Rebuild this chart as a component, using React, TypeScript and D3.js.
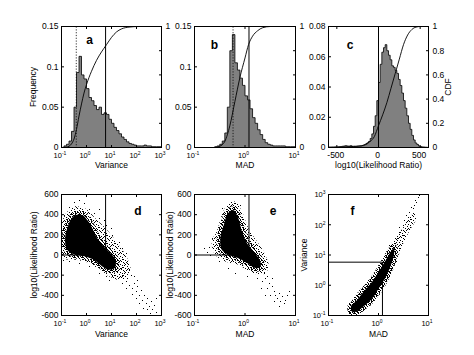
import React from 'react';
import * as d3 from 'd3';

const FONT = "'Liberation Sans', Arial, Helvetica, sans-serif";
const FS = 8.5;

// ---------------- Panel a: Variance histogram (log10 bin left edges) ----------------
const varBinLog10 = [-1, -0.9, -0.8, -0.7, -0.6, -0.5, -0.4, -0.3, -0.2, -0.1, 0, 0.1, 0.2, 0.3, 0.4, 0.5, 0.6, 0.7, 0.8, 0.9, 1, 1.1, 1.2, 1.3, 1.4, 1.5, 1.6, 1.7, 1.8, 1.9, 2, 2.1, 2.2, 2.3, 2.4, 2.5, 2.6, 2.7, 2.8, 2.9];
const varBinWidthLog10 = 0.1;
const varFreq = [0.000, 0.002, 0.004, 0.008, 0.020, 0.050, 0.093, 0.113, 0.090, 0.085, 0.073, 0.062, 0.058, 0.052, 0.047, 0.050, 0.041, 0.043, 0.041, 0.035, 0.030, 0.025, 0.021, 0.017, 0.013, 0.010, 0.007, 0.005, 0.004, 0.003, 0.002, 0.002, 0.002, 0.003, 0.002, 0.002, 0.001, 0.001, 0.001, 0.001];
const varCdfLog10 = [-1, -0.8, -0.7, -0.6, -0.5, -0.4, -0.3, -0.2, -0.1, 0, 0.2, 0.4, 0.6, 0.8, 1.0, 1.2, 1.4, 1.7, 2.1, 3];
const varCdf = [0, 0.003, 0.01, 0.03, 0.07, 0.15, 0.26, 0.36, 0.45, 0.52, 0.63, 0.72, 0.79, 0.85, 0.91, 0.955, 0.98, 0.995, 1, 1];
const varLowCut = 0.39;
const varHighCut = 5.8;

// ---------------- Panel b: MAD histogram ----------------
const madBinLog10 = [-1, -0.95, -0.9, -0.85, -0.8, -0.75, -0.7, -0.65, -0.6, -0.55, -0.5, -0.45, -0.4, -0.35, -0.3, -0.25, -0.2, -0.15, -0.1, -0.05, 0, 0.05, 0.1, 0.15, 0.2, 0.25, 0.3, 0.35, 0.4, 0.45, 0.5, 0.55, 0.6, 0.65, 0.7, 0.75, 0.8, 0.85, 0.9, 0.95];
const madBinWidthLog10 = 0.05;
const madFreq = [0, 0, 0, 0, 0, 0, 0, 0, 0.001, 0.002, 0.004, 0.008, 0.018, 0.050, 0.120, 0.140, 0.105, 0.096, 0.086, 0.077, 0.064, 0.059, 0.048, 0.037, 0.030, 0.022, 0.016, 0.010, 0.006, 0.004, 0.003, 0.002, 0.002, 0.002, 0.002, 0.002, 0.001, 0.001, 0.001, 0.001];
const madCdfLog10 = [-1, -0.6, -0.5, -0.4, -0.3, -0.2, -0.1, 0, 0.07, 0.15, 0.25, 0.35, 0.5, 1];
const madCdf = [0, 0, 0.01, 0.05, 0.18, 0.38, 0.58, 0.74, 0.85, 0.92, 0.965, 0.99, 1, 1];
const madLowCut = 0.58;
const madHighCut = 1.2;

// ---------------- Panel c: log10(Likelihood Ratio) histogram ----------------
const lrBins = [-600, -580, -560, -540, -520, -500, -480, -460, -440, -420, -400, -380, -360, -340, -320, -300, -280, -260, -240, -220, -200, -180, -160, -140, -120, -100, -80, -60, -40, -20, 0, 20, 40, 60, 80, 100, 120, 140, 160, 180, 200, 220, 240, 260, 280, 300, 320, 340, 360, 380, 400, 420, 440, 460, 480, 500, 520, 540, 560, 580];
const lrBinWidth = 20;
const lrFreq = [0.0003, 0.0003, 0.0003, 0.0003, 0.0004, 0.0004, 0.0005, 0.0006, 0.0008, 0.001, 0.0012, 0.001, 0.0009, 0.0012, 0.0008, 0.0008, 0.0007, 0.0008, 0.0009, 0.001, 0.0012, 0.0015, 0.002, 0.003, 0.004, 0.006, 0.009, 0.014, 0.021, 0.031, 0.043, 0.055, 0.063, 0.066, 0.068, 0.064, 0.061, 0.058, 0.054, 0.053, 0.051, 0.049, 0.045, 0.041, 0.036, 0.031, 0.026, 0.021, 0.016, 0.012, 0.008, 0.005, 0.003, 0.002, 0.001, 0.0006, 0.0004, 0.0003, 0.0002, 0.0001];
const lrCdfX = [-600, -400, -200, -150, -100, -50, 0, 50, 100, 150, 200, 250, 300, 350, 400, 450, 500, 600];
const lrCdf = [0, 0.005, 0.015, 0.03, 0.05, 0.09, 0.18, 0.27, 0.37, 0.49, 0.61, 0.73, 0.85, 0.93, 0.975, 0.995, 1, 1];
const lrCut = 0;

// ---------------- Tick values ----------------
const freqTicksAB = [0, 0.05, 0.1, 0.15];
const freqTicksAB_lbl = ['0', '0.05', '0.1', '0.15'];
const freqTicksC = [0, 0.02, 0.04, 0.06, 0.08];
const freqTicksC_lbl = ['0', '0.02', '0.04', '0.06', '0.08'];
const cdfTicks = [0, 0.2, 0.4, 0.6, 0.8, 1];
const cdfTicks_lbl = ['0', '0.2', '0.4', '0.6', '0.8', '1'];
const lrHistTicks = [-500, 0, 500];
const lrScatterTicks = [600, 400, 200, 0, -200, -400, -600];
const varDecades = [-1, 0, 1, 2, 3];
const madDecades = [-1, 0, 1];

// ---------------- Panel d: log10(Variance) vs log10(LR) ----------------
const dCore: [number, number][] = [[-0.77, 265], [-0.64, 347], [-0.44, 396], [-0.17, 396], [0.03, 347], [0.23, 265], [0.43, 166], [0.69, 84], [0.96, 18], [1.16, -48], [1.13, -130], [0.89, -146], [0.63, -113], [0.29, -48], [-0.04, -15], [-0.44, 2], [-0.71, 35], [-0.84, 100], [-0.84, 199]];
const dHalo: [number, number][] = [[-0.97, 330], [-0.77, 430], [-0.5, 480], [-0.05, 460], [0.36, 363], [0.76, 265], [1.29, 100], [1.63, -31], [1.76, -163], [1.43, -245], [1.03, -228], [0.63, -163], [0.09, -80], [-0.44, -48], [-0.91, -31], [-0.99, 100]];
const dPoints: [number, number][] = [[1.23, -163], [1.36, -130], [1.43, -212], [1.49, -179], [1.56, -261], [1.63, -228], [1.69, -294], [1.76, -195], [1.83, -327], [1.89, -278], [1.96, -360], [2.03, -310], [2.09, -392], [2.16, -343], [2.23, -442], [2.29, -393], [2.36, -475], [2.43, -425], [2.49, -508], [2.56, -458], [2.63, -540], [2.69, -491], [2.76, -563], [2.25, -524], [1.96, -425], [1.8, -386], [1.59, -327], [1.4, -278], [2.09, -475], [2.52, -573], [2.76, -425], [1.49, -97], [1.69, -146], [1.29, -64], [1.03, -195], [0.89, -245], [1.63, -80], [1.89, -212], [2.03, -245], [2.43, -540], [-0.91, 396], [-0.71, 478], [-0.51, 527], [-0.31, 544], [-0.11, 511], [0.09, 461], [0.29, 412], [0.49, 363], [0.76, 297], [1.03, 198], [1.29, 133], [1.43, 67], [1.56, 18], [0.49, 461], [0.69, 347], [0.96, 264], [-0.95, 264], [-0.97, 34], [-0.92, -48], [-0.71, -64], [-0.31, -80], [0.09, -113], [0.49, -179], [0.76, -212]];
const dCutVar = 5.8;
const dCutLR = 0;

// ---------------- Panel e: log10(MAD) vs log10(LR) ----------------
const eCore: [number, number][] = [[-0.34, 412], [-0.23, 445], [-0.13, 363], [-0.06, 232], [0.04, 117], [0.17, 34], [0.29, -48], [0.31, -113], [0.21, -130], [0.04, -80], [-0.13, -31], [-0.33, 2], [-0.46, 51], [-0.49, 166], [-0.42, 297]];
const eHalo: [number, number][] = [[-0.56, 232], [-0.46, 396], [-0.33, 511], [-0.19, 527], [-0.06, 429], [0.07, 264], [0.24, 133], [0.4, 2], [0.47, -130], [0.34, -195], [0.14, -179], [-0.13, -97], [-0.39, -64], [-0.59, 2], [-0.66, 133]];
const ePoints: [number, number][] = [[0.37, -179], [0.4, -228], [0.47, -278], [0.44, -327], [0.54, -310], [0.57, -360], [0.6, -393], [0.64, -425], [0.67, -376], [0.7, -458], [0.74, -409], [0.77, -475], [0.8, -442], [0.83, -393], [0.87, -360], [0.5, -393], [0.57, -458], [0.67, -508], [0.34, -261], [0.44, -212], [0.54, -228], [0.24, -228], [0.31, -327], [0.4, -393], [-0.69, 2], [-0.66, 166], [-0.76, 34], [-0.52, -64], [-0.33, -130], [-0.19, -179], [0.04, -212], [-0.09, 494], [-0.46, 462], [-0.72, 84], [-0.82, 67]];
const eCutMad = 1.2;
const eCutLR = 0;

// ---------------- Panel f: log10(MAD) vs log10(Variance) ----------------
const fCore: [number, number][] = [[-0.55, -0.69], [-0.45, -0.53], [-0.29, -0.2], [-0.12, 0.13], [0.01, 0.46], [0.15, 0.84], [0.25, 1.12], [0.31, 1.23], [0.31, 1.01], [0.25, 0.68], [0.15, 0.29], [0.01, -0.09], [-0.12, -0.42], [-0.29, -0.69], [-0.45, -0.88], [-0.53, -0.88]];
const fHalo: [number, number][] = [[-0.62, -0.86], [-0.52, -0.47], [-0.32, -0.04], [-0.12, 0.35], [0.08, 0.9], [0.28, 1.44], [0.48, 1.88], [0.61, 2.21], [0.71, 2.38], [0.75, 2.21], [0.61, 1.77], [0.48, 1.33], [0.38, 0.9], [0.28, 0.46], [0.15, 0.02], [-0.05, -0.47], [-0.25, -0.8], [-0.45, -0.97], [-0.6, -0.97]];
const fPoints: [number, number][] = [[0.78, 2.92], [0.81, 2.97], [0.75, 2.76], [0.71, 2.65], [0.68, 2.54], [0.65, 2.6], [0.68, 2.38], [0.58, 2.27], [0.61, 2.43], [0.55, 2.1], [0.51, 2.16], [0.48, 1.99], [0.45, 1.83], [0.41, 1.77], [0.38, 1.55], [0.35, 1.44], [0.31, 1.39], [0.41, 1.94], [0.55, 2.32], [0.73, 2.81], [0.25, 0.57], [0.35, 0.79], [0.21, 0.35], [0.08, 0.02], [-0.05, -0.31], [-0.49, -0.97], [-0.59, -0.91], [0.41, 1.23], [0.51, 1.66], [0.21, 1.33], [0.18, 1.17]];
const fCutMad = 1.2;
const fCutVar = 5.8;

// ---------------- Layout ----------------
const COL = [
  { x0: 61.5, x1: 161.5 },
  { x0: 194.5, x1: 295.5 },
  { x0: 328.5, x1: 428.5 },
];
const ROW = [
  { y0: 26.5, y1: 147.5 },
  { y0: 194.5, y1: 315.5 },
];
const TL = 2.5;
const GREY = '#808080';

// hand-placed speckle texture cells (style only)
const SPECK_SPARSE = [[0, 0], [5, 0], [2, 1], [7, 2], [3, 3], [0, 4], [5, 4], [1, 5], [6, 6], [3, 6], [4, 7], [7, 5], [2, 3]];
const SPECK_DENSE = [[0, 0], [2, 0], [5, 0], [6, 0], [1, 1], [3, 1], [4, 2], [7, 2], [0, 3], [2, 3], [5, 3], [6, 4], [1, 5], [3, 5], [4, 5], [7, 6], [0, 6], [2, 7], [5, 7], [6, 1], [3, 4], [1, 7]];

type S = (v: number) => number;

function Frame({ x0, x1, y0, y1, xt, yt, yt2 }: { x0: number; x1: number; y0: number; y1: number; xt: number[]; yt: number[]; yt2?: number[] }) {
  const r = yt2 ?? yt;
  return (
    <g stroke="#000" strokeWidth={1} fill="none">
      <rect x={x0} y={y0} width={x1 - x0} height={y1 - y0} />
      {xt.map((x, i) => (
        <g key={'x' + i}>
          <line x1={x} x2={x} y1={y1} y2={y1 - TL} />
          <line x1={x} x2={x} y1={y0} y2={y0 + TL} />
        </g>
      ))}
      {yt.map((y, i) => <line key={'y' + i} x1={x0} x2={x0 + TL} y1={y} y2={y} />)}
      {r.map((y, i) => <line key={'r' + i} x1={x1} x2={x1 - TL} y1={y} y2={y} />)}
    </g>
  );
}

function T(props: any) {
  return <text fontFamily={FONT} fontSize={FS} fill="#000" {...props} />;
}

function Pow({ x, y, e, anchor = 'middle' }: { x: number; y: number; e: number; anchor?: string }) {
  return (
    <text x={x} y={y} textAnchor={anchor} fontFamily={FONT} fontSize={7.5} fill="#000">
      10<tspan dy={-3} fontSize={5}>{String(e)}</tspan>
    </text>
  );
}

function VLabel({ x, y, children }: { x: number; y: number; children: any }) {
  return (
    <text transform={`translate(${x},${y}) rotate(-90)`} textAnchor="middle" dy="0.35em" fontFamily={FONT} fontSize={FS} fill="#000">
      {children}
    </text>
  );
}

function PanelLetter({ x, y, t }: { x: number; y: number; t: string }) {
  return <text x={x} y={y} textAnchor="middle" fontFamily={FONT} fontSize={12} fontWeight="bold" fill="#000">{t}</text>;
}

function histArea(edges: number[], vals: number[], w: number, toX: (e: number) => number, sy: S) {
  const pts: [number, number][] = edges.map((e, i) => [e, vals[i]]);
  pts.push([edges[edges.length - 1] + w, vals[vals.length - 1]]);
  return d3.area<[number, number]>().curve(d3.curveStepAfter).x(d => toX(d[0])).y0(sy(0)).y1(d => sy(d[1]))(pts) || '';
}

function cdfLine(xs: number[], ys: number[], toX: (v: number) => number, sy: S) {
  const pts: [number, number][] = xs.map((x, i) => [x, ys[i]]);
  return d3.line<[number, number]>().curve(d3.curveMonotoneX).x(d => toX(d[0])).y(d => sy(d[1]))(pts) || '';
}

function blob(pts: [number, number][], fx: (v: number) => number, fy: (v: number) => number) {
  return d3.line<[number, number]>().curve(d3.curveCatmullRomClosed.alpha(0.5)).x(d => fx(d[0])).y(d => fy(d[1]))(pts) || '';
}

function Cloud({ halo, core, pts, fx, fy, clip, k }: { halo: [number, number][]; core: [number, number][]; pts: [number, number][]; fx: S; fy: S; clip: string; k: string }) {
  const coreD = blob(core, fx, fy);
  return (
    <g clipPath={`url(#${clip})`}>
      <path d={blob(halo, fx, fy)} fill="url(#speckSparse)" />
      <path d={coreD} fill="none" stroke="url(#speckDense)" strokeWidth={7} strokeLinejoin="round" />
      <path d={coreD} fill="#000" />
      {pts.map((p, i) => <rect key={k + i} x={Math.round(fx(p[0]))} y={Math.round(fy(p[1]))} width={1} height={1} fill="#000" />)}
    </g>
  );
}

export default function App() {
  const top = ROW[0];
  const bot = ROW[1];

  const ca = COL[0];
  const axA = d3.scaleLog().domain([0.1, 1000]).range([ca.x0, ca.x1]);
  const ayA = d3.scaleLinear().domain([0, 0.15]).range([top.y1, top.y0]);
  const ay2A = d3.scaleLinear().domain([0, 1]).range([top.y1, top.y0]);

  const cb = COL[1];
  const axB = d3.scaleLog().domain([0.1, 10]).range([cb.x0, cb.x1]);
  const ayB = d3.scaleLinear().domain([0, 0.15]).range([top.y1, top.y0]);
  const ay2B = d3.scaleLinear().domain([0, 1]).range([top.y1, top.y0]);

  const cc = COL[2];
  const axC = d3.scaleLinear().domain([-600, 600]).range([cc.x0, cc.x1]);
  const ayC = d3.scaleLinear().domain([0, 0.08]).range([top.y1, top.y0]);
  const ay2C = d3.scaleLinear().domain([0, 1]).range([top.y1, top.y0]);

  const axD = d3.scaleLog().domain([0.1, 1000]).range([ca.x0, ca.x1]);
  const ayD = d3.scaleLinear().domain([-600, 600]).range([bot.y1, bot.y0]);
  const axE = d3.scaleLog().domain([0.1, 10]).range([cb.x0, cb.x1]);
  const ayE = d3.scaleLinear().domain([-600, 600]).range([bot.y1, bot.y0]);
  const axF = d3.scaleLog().domain([0.1, 10]).range([cc.x0, cc.x1]);
  const ayF = d3.scaleLog().domain([0.1, 1000]).range([bot.y1, bot.y0]);

  const p10 = (v: number) => Math.pow(10, v);

  const xTickY = top.y1 + 10.5;
  const xTitleY = top.y1 + 20.5;
  const xTickYb = bot.y1 + 10.5;
  const xTitleYb = bot.y1 + 21;
  const LX = -1.5; // MATLAB-like offset of power labels

  return (
    <svg width={474} height={355} style={{ position: 'absolute', left: 0, top: 0, background: '#fff' }}>
      <defs>
        <pattern id="speckSparse" width="8" height="8" patternUnits="userSpaceOnUse">
          {SPECK_SPARSE.map(([x, y], i) => <rect key={i} x={x} y={y} width="1" height="1" fill="#000" />)}
        </pattern>
        <pattern id="speckDense" width="8" height="8" patternUnits="userSpaceOnUse">
          {SPECK_DENSE.map(([x, y], i) => <rect key={i} x={x} y={y} width="1" height="1" fill="#000" />)}
        </pattern>
        {COL.map((c, i) => (
          <clipPath id={'clipB' + i} key={i}>
            <rect x={c.x0} y={bot.y0} width={c.x1 - c.x0} height={bot.y1 - bot.y0} />
          </clipPath>
        ))}
      </defs>
      <rect x={0} y={0} width={474} height={355} fill="#fff" />

      {/* ===== Panel a ===== */}
      <path d={histArea(varBinLog10, varFreq, varBinWidthLog10, e => axA(p10(e)), ayA)} fill={GREY} stroke="#000" strokeWidth={0.8} />
      <line x1={axA(varLowCut)} x2={axA(varLowCut)} y1={top.y0} y2={top.y1} stroke="#000" strokeWidth={0.8} strokeDasharray="1.2,1.6" />
      <line x1={axA(varHighCut)} x2={axA(varHighCut)} y1={top.y0} y2={top.y1} stroke="#000" strokeWidth={1} />
      <path d={cdfLine(varCdfLog10, varCdf, v => axA(p10(v)), ay2A)} fill="none" stroke="#000" strokeWidth={0.9} />
      <Frame x0={ca.x0} x1={ca.x1} y0={top.y0} y1={top.y1} xt={varDecades.map(d => axA(p10(d)))} yt={freqTicksAB.map(ayA)} yt2={cdfTicks.map(ay2A)} />
      {freqTicksAB.map((t, i) => <T key={'fa' + i} x={ca.x0 - 3} y={ayA(t) + 2.8} textAnchor="end">{freqTicksAB_lbl[i]}</T>)}
      <T x={ca.x1 + 4} y={ay2A(1) + 2.8}>1</T>
      <T x={ca.x1 + 4} y={ay2A(0) + 2.2}>0</T>
      {varDecades.map(d => <Pow key={'va' + d} x={axA(p10(d)) + LX} y={xTickY} e={d} />)}
      <T x={(ca.x0 + ca.x1) / 2} y={xTitleY} textAnchor="middle">Variance</T>
      <VLabel x={33} y={87}>Frequency</VLabel>
      <PanelLetter x={89.5} y={44} t="a" />

      {/* ===== Panel b ===== */}
      <path d={histArea(madBinLog10, madFreq, madBinWidthLog10, e => axB(p10(e)), ayB)} fill={GREY} stroke="#000" strokeWidth={0.8} />
      <line x1={axB(madLowCut)} x2={axB(madLowCut)} y1={top.y0} y2={top.y1} stroke="#000" strokeWidth={0.8} strokeDasharray="1.2,1.6" />
      <line x1={axB(madHighCut)} x2={axB(madHighCut)} y1={top.y0} y2={top.y1} stroke="#000" strokeWidth={1} />
      <path d={cdfLine(madCdfLog10, madCdf, v => axB(p10(v)), ay2B)} fill="none" stroke="#000" strokeWidth={0.9} />
      <Frame x0={cb.x0} x1={cb.x1} y0={top.y0} y1={top.y1} xt={madDecades.map(d => axB(p10(d)))} yt={freqTicksAB.map(ayB)} yt2={cdfTicks.map(ay2B)} />
      {freqTicksAB.map((t, i) => <T key={'fb' + i} x={cb.x0 - 3} y={ayB(t) + 2.8} textAnchor="end">{freqTicksAB_lbl[i]}</T>)}
      <T x={cb.x1 + 4} y={ay2B(1) + 2.8}>1</T>
      <T x={cb.x1 + 4} y={ay2B(0) + 2.2}>0</T>
      {madDecades.map(d => <Pow key={'mb' + d} x={axB(p10(d)) + LX} y={xTickY} e={d} />)}
      <T x={(cb.x0 + cb.x1) / 2} y={xTitleY} textAnchor="middle">MAD</T>
      <PanelLetter x={214.5} y={48.5} t="b" />

      {/* ===== Panel c ===== */}
      <path d={histArea(lrBins, lrFreq, lrBinWidth, e => axC(e), ayC)} fill={GREY} stroke="#000" strokeWidth={0.8} />
      <line x1={axC(lrCut)} x2={axC(lrCut)} y1={top.y0} y2={top.y1} stroke="#000" strokeWidth={1} />
      <path d={cdfLine(lrCdfX, lrCdf, v => axC(v), ay2C)} fill="none" stroke="#000" strokeWidth={0.9} />
      <Frame x0={cc.x0} x1={cc.x1} y0={top.y0} y1={top.y1} xt={lrHistTicks.map(axC)} yt={freqTicksC.map(ayC)} yt2={cdfTicks.map(ay2C)} />
      {freqTicksC.map((t, i) => <T key={'fc' + i} x={cc.x0 - 3} y={ayC(t) + 2.8} textAnchor="end">{freqTicksC_lbl[i]}</T>)}
      {cdfTicks.map((t, i) => <T key={'cc' + i} x={cc.x1 + 4} y={ay2C(t) + (t === 0 ? 2.2 : 2.8)}>{cdfTicks_lbl[i]}</T>)}
      {lrHistTicks.map(t => <T key={'lc' + t} x={axC(t) - 1} y={xTickY} textAnchor="middle">{String(t)}</T>)}
      <T x={(cc.x0 + cc.x1) / 2} y={xTitleY} textAnchor="middle">log10(Likelihood Ratio)</T>
      <VLabel x={448} y={87}>CDF</VLabel>
      <PanelLetter x={350} y={48.5} t="c" />

      {/* ===== Panel d ===== */}
      <Cloud halo={dHalo} core={dCore} pts={dPoints} fx={v => axD(p10(v))} fy={ayD} clip="clipB0" k="d" />
      <line x1={ca.x0} x2={axD(dCutVar)} y1={ayD(dCutLR)} y2={ayD(dCutLR)} stroke="#000" strokeWidth={1} />
      <line x1={axD(dCutVar)} x2={axD(dCutVar)} y1={ayD(dCutLR)} y2={bot.y0} stroke="#000" strokeWidth={1} />
      <Frame x0={ca.x0} x1={ca.x1} y0={bot.y0} y1={bot.y1} xt={varDecades.map(d => axD(p10(d)))} yt={lrScatterTicks.map(ayD)} />
      {lrScatterTicks.map(t => <T key={'ld' + t} x={ca.x0 - 3} y={ayD(t) + 2.8} textAnchor="end">{String(t)}</T>)}
      {varDecades.map(d => <Pow key={'vd' + d} x={axD(p10(d)) + LX} y={xTickYb} e={d} />)}
      <T x={(ca.x0 + ca.x1) / 2} y={xTitleYb} textAnchor="middle">Variance</T>
      <VLabel x={34.5} y={255}>log10(Likelihood Ratio)</VLabel>
      <PanelLetter x={138} y={214.5} t="d" />

      {/* ===== Panel e ===== */}
      <Cloud halo={eHalo} core={eCore} pts={ePoints} fx={v => axE(p10(v))} fy={ayE} clip="clipB1" k="e" />
      <line x1={cb.x0} x2={axE(eCutMad)} y1={ayE(eCutLR)} y2={ayE(eCutLR)} stroke="#000" strokeWidth={1} />
      <line x1={axE(eCutMad)} x2={axE(eCutMad)} y1={ayE(eCutLR)} y2={bot.y0} stroke="#000" strokeWidth={1} />
      <Frame x0={cb.x0} x1={cb.x1} y0={bot.y0} y1={bot.y1} xt={madDecades.map(d => axE(p10(d)))} yt={lrScatterTicks.map(ayE)} />
      {lrScatterTicks.map(t => <T key={'le' + t} x={cb.x0 - 3} y={ayE(t) + 2.8} textAnchor="end">{String(t)}</T>)}
      {madDecades.map(d => <Pow key={'me' + d} x={axE(p10(d)) + LX} y={xTickYb} e={d} />)}
      <T x={(cb.x0 + cb.x1) / 2} y={xTitleYb} textAnchor="middle">MAD</T>
      <VLabel x={170} y={255}>log10(Likelihood Ratio)</VLabel>
      <PanelLetter x={273} y={214.5} t="e" />

      {/* ===== Panel f ===== */}
      <Cloud halo={fHalo} core={fCore} pts={fPoints} fx={v => axF(p10(v))} fy={v => ayF(p10(v))} clip="clipB2" k="f" />
      <line x1={cc.x0} x2={axF(fCutMad)} y1={ayF(fCutVar)} y2={ayF(fCutVar)} stroke="#000" strokeWidth={1} />
      <line x1={axF(fCutMad)} x2={axF(fCutMad)} y1={ayF(fCutVar)} y2={bot.y1} stroke="#000" strokeWidth={1} />
      <Frame x0={cc.x0} x1={cc.x1} y0={bot.y0} y1={bot.y1} xt={madDecades.map(d => axF(p10(d)))} yt={varDecades.map(d => ayF(p10(d)))} />
      {varDecades.map(d => <Pow key={'vf' + d} x={cc.x0 - 3} y={ayF(p10(d)) + 2.8} e={d} anchor="end" />)}
      {madDecades.map(d => <Pow key={'mf' + d} x={axF(p10(d)) + LX} y={xTickYb} e={d} />)}
      <T x={(cc.x0 + cc.x1) / 2} y={xTitleYb} textAnchor="middle">MAD</T>
      <VLabel x={304} y={255}>Variance</VLabel>
      <PanelLetter x={352.5} y={214.5} t="f" />
    </svg>
  );
}
